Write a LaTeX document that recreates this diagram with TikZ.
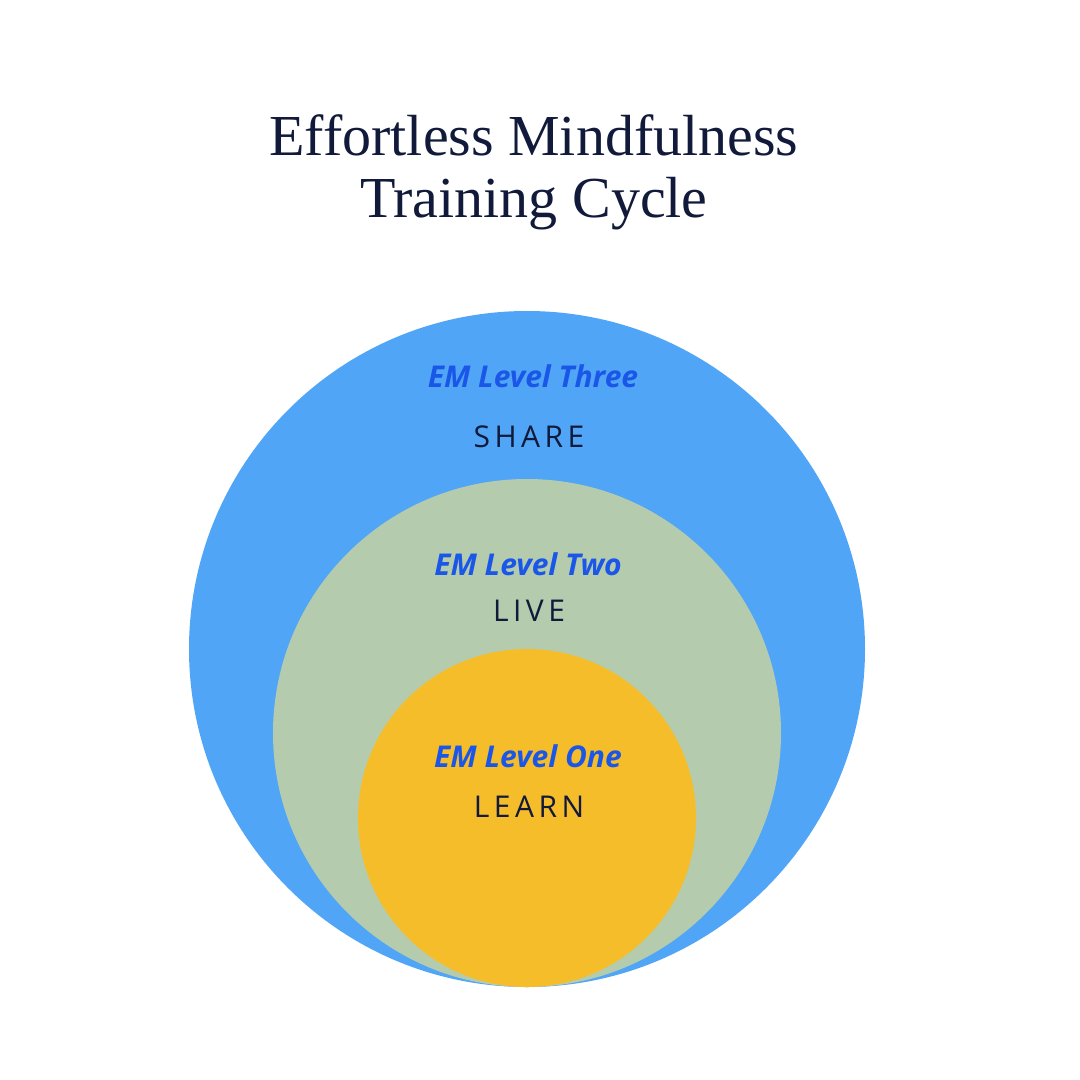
\documentclass[tikz,border=0pt]{standalone}
\usepackage{fontspec}
\setmainfont{Liberation Serif}
\newfontfamily\osans{Open Sans}
\newfontfamily\osanssp[LetterSpace=15]{Open Sans}
\definecolor{navy}{HTML}{111A3A}
\definecolor{cblue}{HTML}{50A5F7}
\definecolor{cgreen}{HTML}{B4CCAD}
\definecolor{cyellow}{HTML}{F6BD2B}
\definecolor{lblue}{HTML}{1A56E8}
\begin{document}
\begin{tikzpicture}[x=1pt,y=-1pt,
  lev/.style={font=\osans\bfseries\itshape\fontsize{30}{36}\selectfont,text=lblue},
  word/.style={font=\osanssp\fontsize{30}{36}\selectfont,text=navy}]
\useasboundingbox[fill=white] (0,0) rectangle (1080,1080);
\node[font=\fontsize{58}{62}\selectfont,text=navy,align=center] (title) at (534,172) {Effortless Mindfulness\\Training Cycle};
\fill[cblue] (527,649) circle[radius=338];
\fill[cgreen] (527,733) circle[radius=254];
\fill[cyellow] (527,818) circle[radius=169];
\node[lev] (l3) at (533,376) {EM Level Three};
\node[word] (w3) at (529,437) {SHARE};
\node[lev] (l2) at (528,564) {EM Level Two};
\node[word] (w2) at (529,611) {LIVE};
\node[lev] (l1) at (528,756) {EM Level One};
\node[word] (w1) at (529,807) {LEARN};
\end{tikzpicture}
\end{document}
